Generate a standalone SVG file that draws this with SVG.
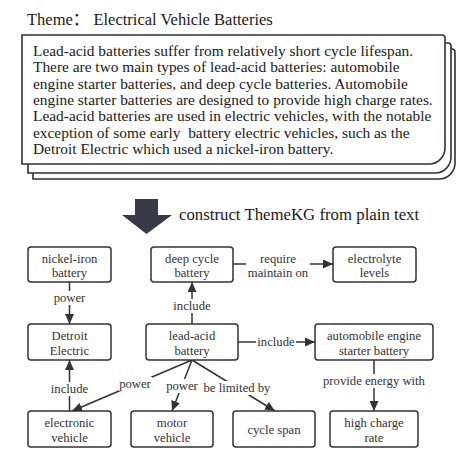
<svg xmlns="http://www.w3.org/2000/svg" width="474" height="456" viewBox="0 0 474 456">
<style>
.doc{fill:#fff;stroke:#2b3040;stroke-width:1.6}
.para{font-family:"Liberation Serif",serif;font-size:15.4px;fill:#1a1a1a}
.title{font-family:"Liberation Serif","Noto Sans CJK SC",serif;font-size:16.5px;fill:#1a1a1a}
.node rect{fill:#fff;stroke:#333;stroke-width:1.5}
.node text,.lbl{font-family:"Liberation Serif",serif;font-size:12.7px;fill:#333;text-anchor:middle}
.edge{stroke:#333;stroke-width:1.5;fill:none}
.bg{fill:#fff}
</style>
<defs>
<marker id="ah" markerWidth="10" markerHeight="9" refX="10" refY="4.5" orient="auto" markerUnits="userSpaceOnUse">
<path d="M0,0 L10,4.5 L0,9 z" fill="#333"/>
</marker>
</defs>
<rect width="474" height="456" fill="#fff"/>
<text class="title" x="27" y="25">Theme： Electrical Vehicle Batteries</text>
<g id="document">
<path class="doc" d="M33,49 H452 Q455,49 455,52 V163 A16,16 0 0 1 439,179 H33 Z"/>
<path class="doc" d="M28,43 H448 Q451,43 451,46 V157 A16,16 0 0 1 435,173 H28 Z"/>
<path class="doc" d="M22,35 H442 Q445,35 445,38 V148 A16,16 0 0 1 429,164 H22 Z"/>
<text class="para" x="33" y="56">Lead-acid batteries suffer from relatively short cycle lifespan.</text>
<text class="para" x="33" y="72.3">There are two main types of lead-acid batteries: automobile</text>
<text class="para" x="33" y="88.6">engine starter batteries, and deep cycle batteries. Automobile</text>
<text class="para" x="33" y="104.9">engine starter batteries are designed to provide high charge rates.</text>
<text class="para" x="33" y="121.2">Lead-acid batteries are used in electric vehicles, with the notable</text>
<text class="para" x="33" y="137.5" xml:space="preserve">exception of some early  battery electric vehicles, such as the</text>
<text class="para" x="33" y="153.8">Detroit Electric which used a nickel-iron battery.</text>
</g>
<g id="big-arrow">
<path d="M135,199 H158 V215 H172 L146.5,234 L122,215 H135 Z" fill="#363a46"/>
<text class="title" x="179" y="220" style="font-size:16.8px">construct ThemeKG from plain text</text>
</g>
<g id="connectors">
<line class="edge" x1="69.5" y1="282" x2="69.5" y2="324" marker-end="url(#ah)"/>
<rect class="bg" x="50" y="291" width="39" height="14"/>
<text class="lbl" x="69.5" y="302">power</text>
<line class="edge" x1="192" y1="324" x2="192" y2="282" marker-end="url(#ah)"/>
<rect class="bg" x="171" y="299" width="42" height="14"/>
<text class="lbl" x="192" y="310">include</text>
<line class="edge" x1="233" y1="264" x2="333" y2="264" marker-end="url(#ah)"/>
<rect class="bg" x="246" y="252" width="64" height="28"/>
<text class="lbl" x="278" y="263">require</text>
<text class="lbl" x="278" y="277">maintain on</text>
<line class="edge" x1="238" y1="342" x2="315" y2="342" marker-end="url(#ah)"/>
<rect class="bg" x="256" y="335" width="40" height="14"/>
<text class="lbl" x="276" y="346">include</text>
<line class="edge" x1="69.5" y1="411" x2="69.5" y2="360" marker-end="url(#ah)"/>
<rect class="bg" x="49" y="382" width="42" height="14"/>
<text class="lbl" x="69.5" y="393">include</text>
<line class="edge" x1="192" y1="360" x2="72" y2="411" marker-end="url(#ah)"/>
<rect class="bg" x="119" y="377" width="33" height="14"/>
<text class="lbl" x="135" y="388">power</text>
<line class="edge" x1="192" y1="360" x2="172" y2="411" marker-end="url(#ah)"/>
<rect class="bg" x="165" y="379" width="34" height="14"/>
<text class="lbl" x="182" y="390">power</text>
<line class="edge" x1="192" y1="360" x2="275" y2="411" marker-end="url(#ah)"/>
<rect class="bg" x="203" y="381" width="68" height="14"/>
<text class="lbl" x="237" y="392">be limited by</text>
<line class="edge" x1="374" y1="360" x2="374" y2="411" marker-end="url(#ah)"/>
<rect class="bg" x="322" y="374" width="104" height="14"/>
<text class="lbl" x="374" y="385">provide energy with</text>
</g>
<g id="n-nickel" class="node"><rect x="28" y="247" width="83" height="35" rx="3"/><text x="69.5" y="262.5">nickel-iron</text><text x="69.5" y="277">battery</text></g>
<g id="n-deep" class="node"><rect x="151" y="247" width="82" height="35" rx="3"/><text x="192" y="262.5">deep cycle</text><text x="192" y="277">battery</text></g>
<g id="n-electrolyte" class="node"><rect x="333" y="247" width="83" height="35" rx="3"/><text x="374.5" y="262.5">electrolyte</text><text x="374.5" y="277">levels</text></g>
<g id="n-detroit" class="node"><rect x="28" y="324" width="83" height="36" rx="3"/><text x="69.5" y="340">Detroit</text><text x="69.5" y="354.5">Electric</text></g>
<g id="n-lead" class="node"><rect x="146" y="324" width="92" height="36" rx="3"/><text x="192" y="340">lead-acid</text><text x="192" y="354.5">battery</text></g>
<g id="n-auto" class="node"><rect x="315" y="324" width="118" height="36" rx="3"/><text x="374" y="340">automobile engine</text><text x="374" y="354.5">starter battery</text></g>
<g id="n-ev" class="node"><rect x="28" y="411" width="83" height="36" rx="3"/><text x="69.5" y="427">electronic</text><text x="69.5" y="441.5">vehicle</text></g>
<g id="n-motor" class="node"><rect x="131" y="411" width="82" height="36" rx="3"/><text x="172" y="427">motor</text><text x="172" y="441.5">vehicle</text></g>
<g id="n-cycle" class="node"><rect x="233" y="411" width="82" height="36" rx="3"/><text x="274" y="434">cycle span</text></g>
<g id="n-high" class="node"><rect x="330" y="411" width="88" height="36" rx="3"/><text x="374" y="427">high charge</text><text x="374" y="441.5">rate</text></g>
</svg>
